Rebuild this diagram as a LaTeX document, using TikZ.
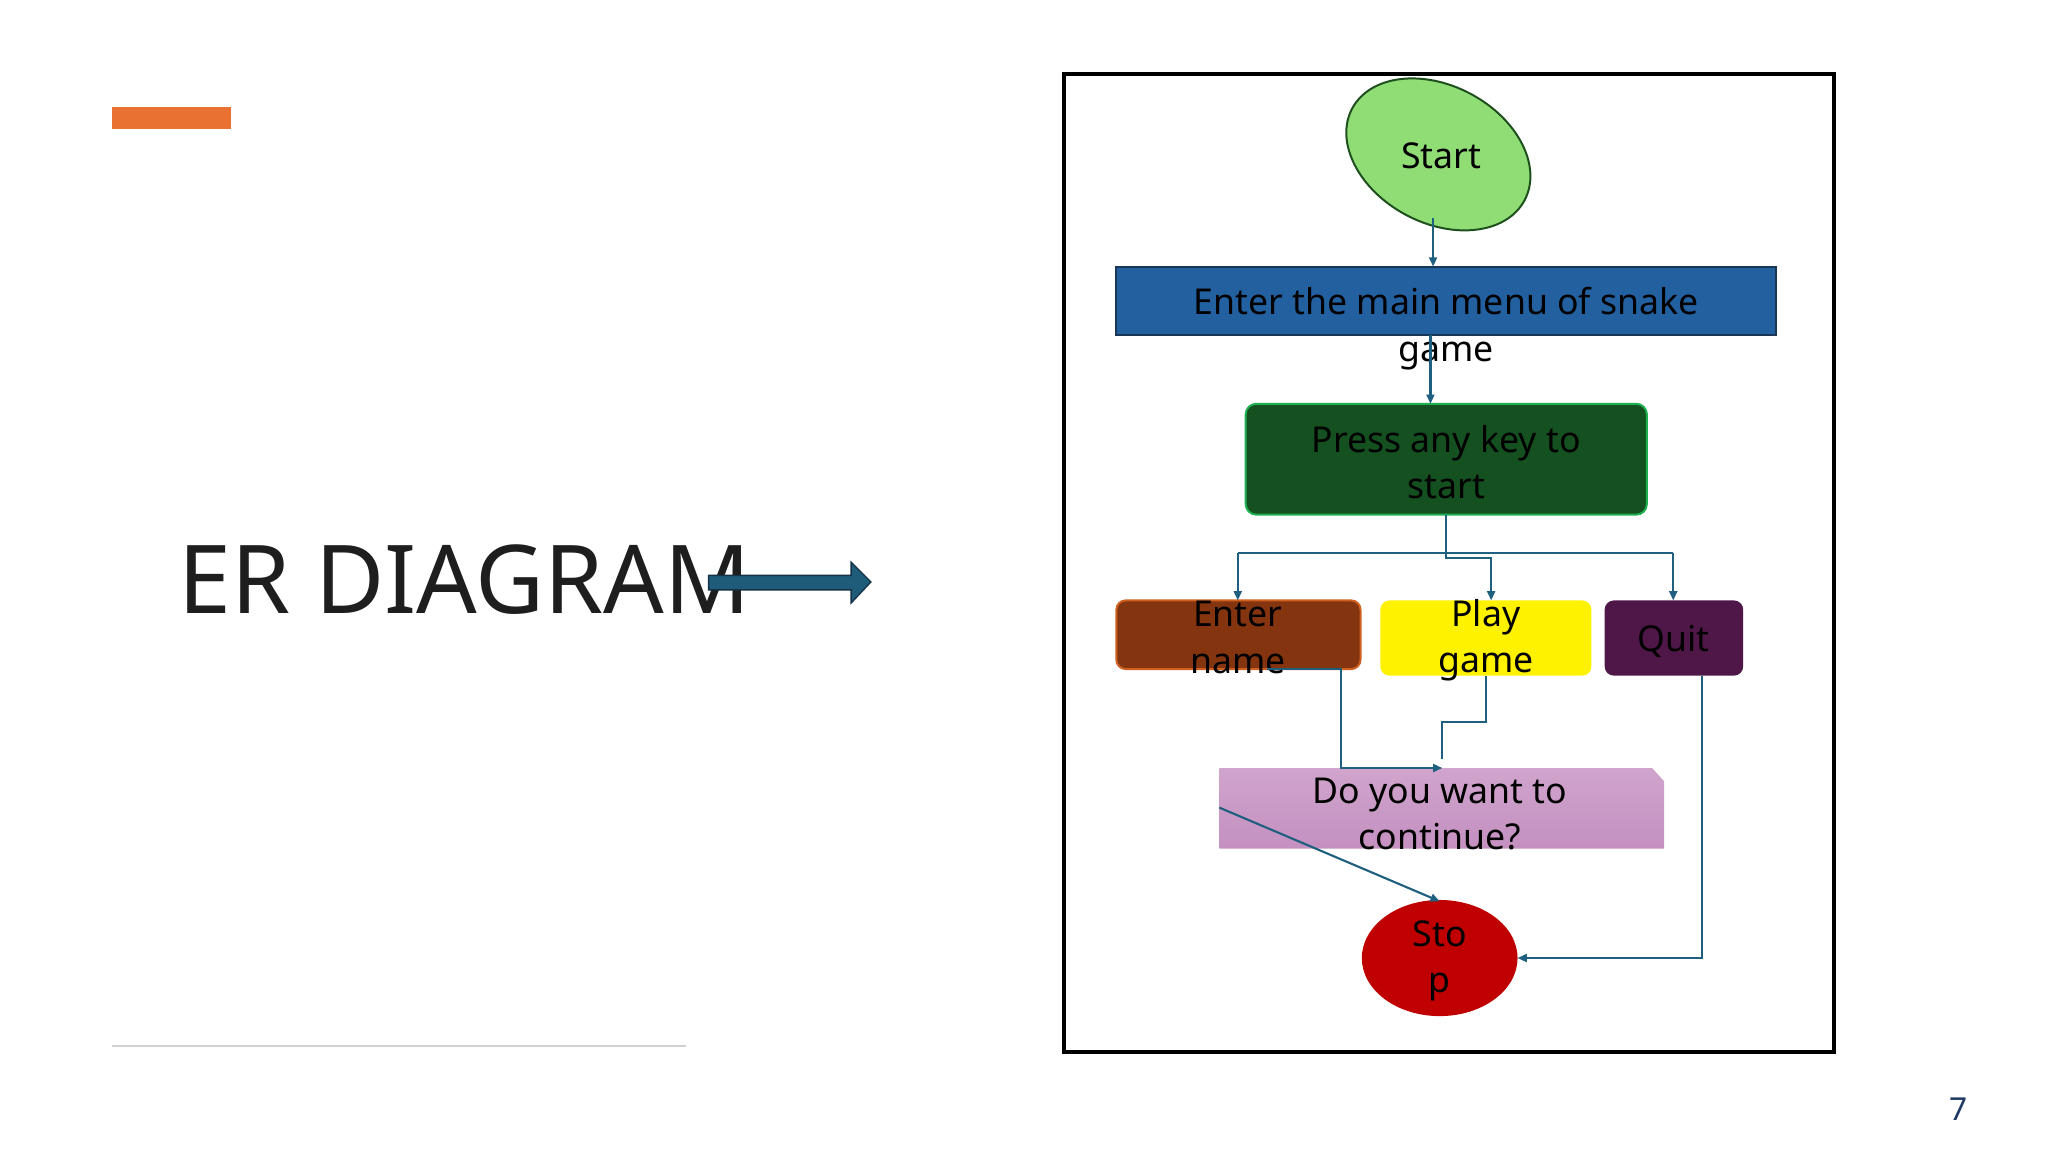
\documentclass[tikz,border=0pt]{standalone}
\usepackage{fontspec}
\setmainfont{Noto Sans}
\usetikzlibrary{arrows.meta,shapes.geometric,shapes.misc}
\definecolor{conn}{HTML}{1F6080}
\begin{document}
\begin{tikzpicture}[x=1pt,y=-1pt,
  lbl/.style={font=\fontsize{27}{35}\selectfont,align=center,inner sep=0},
  con/.style={draw=conn,line width=1.6pt},
  arr/.style={con,-{Triangle[length=7pt,width=6pt]}}]
\useasboundingbox (0,0) rectangle (1552,873);
\fill[white] (0,0) rectangle (1552,873);
\fill[fill={rgb,255:red,233;green,113;blue,50}] (85,81) rectangle (175,98);
\draw[line width=1.5pt,draw={rgb,255:red,208;green,208;blue,208}] (85,793) -- (520,793);
\node[anchor=base west,inner sep=0,font=\fontsize{72}{80}\selectfont,text={rgb,255:red,30;green,30;blue,30}] (title) at (135,465) {ER DIAGRAM};
\node[anchor=base,inner sep=0,font=\fontsize{24}{28}\selectfont,text={rgb,255:red,31;green,56;blue,100}] (pg) at (1484,849) {7};
\fill[fill={rgb,255:red,31;green,92;blue,122},draw={rgb,255:red,20;green,50;blue,70},line width=1pt]
 (537,436) -- (645,436) -- (645,426) -- (660,441) -- (645,457) -- (645,447) -- (537,447) -- cycle;
\draw[line width=3pt] (806,56) rectangle (1390,797);
% shapes
\node[ellipse,draw={rgb,255:red,30;green,80;blue,30},line width=1.5pt,fill={rgb,255:red,144;green,221;blue,117},minimum width=148pt,minimum height=104pt,rotate=-28] (start) at (1090,117) {};
\node[lbl] at (1092,118) {Start};
\node[draw={rgb,255:red,25;green,55;blue,85},line width=1.5pt,fill={rgb,255:red,34;green,96;blue,160},minimum width=500pt,minimum height=52pt] (menu) at (1096,228) {};
\node[lbl] at (1096,249) {Enter the main menu of snake\\game};
\node[rounded corners=8pt,draw={rgb,255:red,29;green,176;blue,80},line width=1.5pt,fill={rgb,255:red,20;green,80;blue,32},minimum width=304pt,minimum height=84pt] (press) at (1096,348) {};
\node[lbl] at (1096,350) {Press any key to\\start};
\node[rounded corners=7pt,draw={rgb,255:red,208;green,96;blue,32},line width=1.5pt,fill={rgb,255:red,132;green,53;blue,16},minimum width=185pt,minimum height=52pt] (ename) at (938.5,481) {};
\node[lbl] at (938,483) {Enter\\name};
\node[rounded corners=7pt,fill=yellow,minimum width=160pt,minimum height=57pt] (play) at (1126,483.5) {};
\node[lbl] at (1126,485) {Play\\game};
\node[rounded corners=7pt,fill={rgb,255:red,79;green,23;blue,71},minimum width=105pt,minimum height=57pt] (quit) at (1268.5,483.5) {};
\node[lbl] (qt) at (1268,486) {Quit};
\shade[top color={rgb,255:red,208;green,164;blue,204},bottom color={rgb,255:red,196;green,144;blue,192}]
 (924,582) -- (1252,582) -- (1261,592) -- (1261,643) -- (924,643) -- cycle;
\coordinate (cont) at (1092,612);
\node[lbl] at (1091,617) {Do you want to\\continue?};
\node[ellipse,fill={rgb,255:red,192;green,0;blue,0},minimum width=118pt,minimum height=88pt] (stop) at (1091,726) {};
\node[lbl] at (1091,728) {Sto\\p};
% connectors
\coordinate (s1) at (1086,165);
\draw[arr] (s1) -- (1086,202);
\coordinate (m1) at (1084,254);
\draw[arr] (m1) -- (1084,306);
\coordinate (p1) at (1096,390);
\draw[con] (p1) -- (1096,419);
\draw[arr] (938,419) -- (938,455);
\draw[arr] (1268,419) -- (1268,455);
\draw[con] (938,419) -- (1268,419);
\draw[arr] (1096,419) -- (1096,423) -- (1130,423) -- (1130,455);
\coordinate (e1) at (960,507);
\draw[arr] (e1) -- (1016,507) -- (1016,582) -- (1093,582);
\coordinate (g1) at (1126,512);
\draw[con] (g1) -- (1126,547) -- (1093,547) -- (1093,575);
\coordinate (d1) at (924,612);
\draw[arr] (d1) -- (1091,683);
\coordinate (q1) at (1290,512);
\draw[arr] (q1) -- (1290,726) -- (1150,726);
\end{tikzpicture}
\end{document}
